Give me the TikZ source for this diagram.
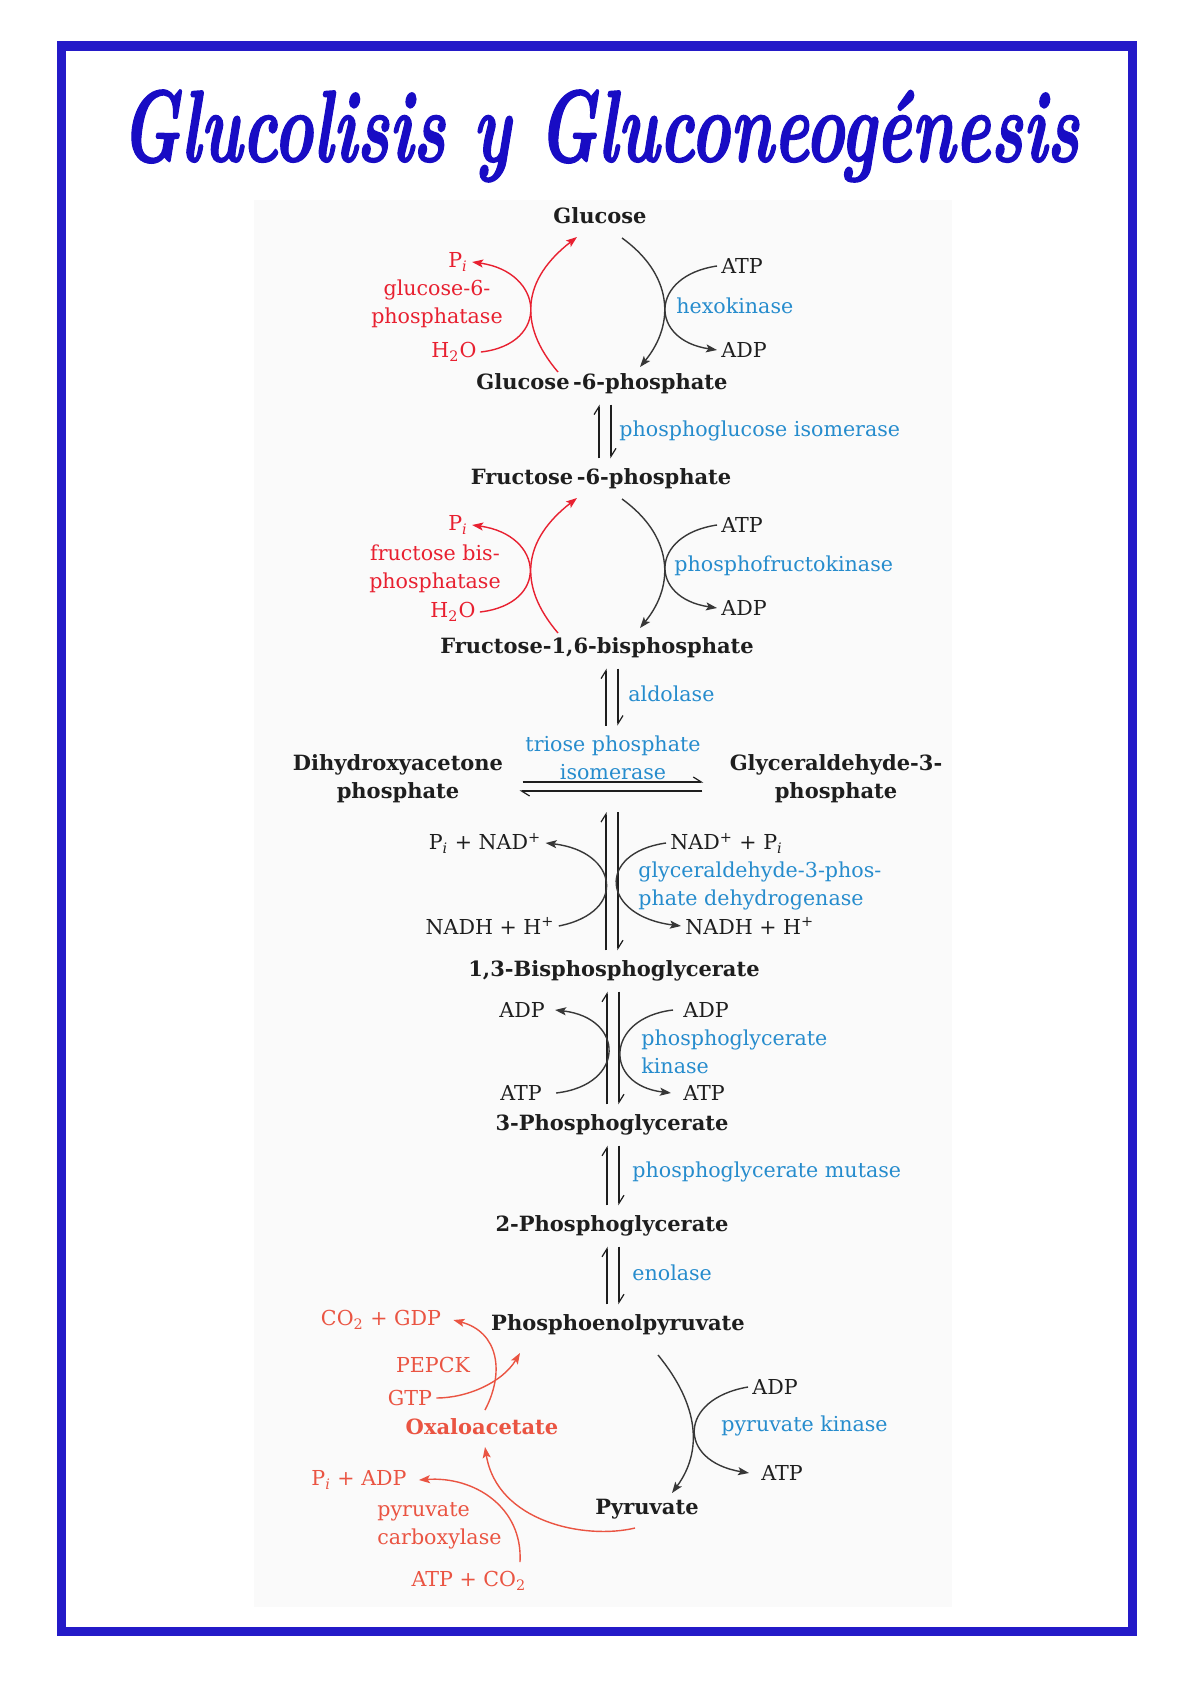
\documentclass[tikz,border=0pt]{standalone}
\usepackage{fontspec}
\usepackage{graphicx}
\newfontfamily\labelfont{DejaVu Serif}
\newfontfamily\titlefont{Latin Modern Roman}[FakeBold=1.6]
\usetikzlibrary{arrows.meta}

\definecolor{frameblue}{RGB}{36,26,200}
\definecolor{titleblue}{RGB}{24,12,196}
\definecolor{ink}{RGB}{30,30,30}
\definecolor{arcgray}{RGB}{55,55,55}
\definecolor{enzblue}{RGB}{38,140,205}
\definecolor{gngred}{RGB}{232,32,48}
\definecolor{pepred}{RGB}{234,84,66}

% pair of harpoons between two levels, #3 = x of the pair
\newcommand{\equil}[3]{%
  \draw[harp] (#3-6,0 |- #2) -- (#3-6,0 |- #1);
  \draw[harp] (#3+6,0 |- #1) -- (#3+6,0 |- #2);}

\begin{document}
\begin{tikzpicture}[x=0.5pt, y=-0.5pt,
  met/.style={font=\labelfont\bfseries\fontsize{10.5}{14}\selectfont, text=ink, inner sep=2pt},
  cof/.style={font=\labelfont\fontsize{10.3}{14}\selectfont, text=ink, inner sep=2pt},
  enz/.style={cof, text=enzblue},
  gng/.style={cof, text=gngred},
  pepc/.style={cof, text=pepred},
  fwd/.style={draw=arcgray, line width=0.7pt, -{Stealth[length=5.5pt, width=4pt, inset=1.2pt]}},
  gngarc/.style={fwd, draw=gngred},
  peparc/.style={fwd, draw=pepred},
  harp/.style={draw=ink, line width=0.6pt, shorten <=3pt, shorten >=3pt,
    -{Straight Barb[left, length=4pt, width=5pt]}}]
  \useasboundingbox (0,0) rectangle (1200,1696);
  \fill[black!2] (254,200) rectangle (952,1607);
  \draw[frameblue, line width=4.75pt] (61.5,46) rectangle (1132.5,1631.5);
  \node[text=titleblue, font=\titlefont\bfseries\itshape, inner sep=0pt] (title) at (600,136)
    {\resizebox*{479pt}{46pt}{Glucolisis y Gluconeogénesis}};

  % glucose -- glucose-6-phosphate
  \node[met] (glc) at (600,216) {Glucose};
  \node[met] (g6p) at (602,384) {Glucose\,-6-phosphate};
  \node[cof, anchor=west] (atpa) at (717,266) {ATP};
  \node[enz, anchor=west] (hexo) at (672,306) {hexokinase};
  \node[cof, anchor=west] (adpa) at (717,350) {ADP};
  \node[gng] (pia) at (458,262) {P\textsubscript{\textit{i}}};
  \node[gng, align=center] (g6pase) at (437,304) {glucose-6-\\phosphatase};
  \node[gng] (h2oa) at (454,352) {H\textsubscript{2}O};
  \draw[fwd] ([shift={(22,22)}]glc.center) .. controls +(50,36) and +(36,-44) .. ([shift={(38,-17)}]g6p.center);
  \draw[fwd] (atpa.west) .. controls +(-68,10) and +(-68,-10) .. (adpa.west);
  \draw[gngarc] ([shift={(-44,-12)}]g6p.center) .. controls +(-41,-48) and +(-54,42) .. ([shift={(-23,21)}]glc.center);
  \draw[gngarc] (h2oa.east) .. controls +(70,-8) and +(72,10) .. (pia.east);

  % fructose-6-phosphate -- fructose-1,6-bisphosphate
  \node[met] (f6p) at (601,479) {Fructose\,-6-phosphate};
  \node[enz, anchor=west] (pgi) at (615,431) {phosphoglucose isomerase};
  \equil{g6p.south}{f6p.north}{605}
  \node[met] (fbp) at (597,648) {Fructose-1,6-bisphosphate};
  \node[cof, anchor=west] (atpb) at (717,525) {ATP};
  \node[enz, anchor=west] (pfk) at (670,566) {phosphofructokinase};
  \node[cof, anchor=west] (adpb) at (717,608) {ADP};
  \node[gng] (pib) at (458,525) {P\textsubscript{\textit{i}}};
  \node[gng, align=center] (fbpase) at (435,569) {fructose bis-\\phosphatase};
  \node[gng] (h2ob) at (453,612) {H\textsubscript{2}O};
  \draw[fwd] ([shift={(21,20)}]f6p.center) .. controls +(50,36) and +(36,-44) .. ([shift={(43,-20)}]fbp.center);
  \draw[fwd] (atpb.west) .. controls +(-68,10) and +(-68,-10) .. (adpb.west);
  \draw[gngarc] ([shift={(-39,-15)}]fbp.center) .. controls +(-41,-48) and +(-54,42) .. ([shift={(-24,19)}]f6p.center);
  \draw[gngarc] (h2ob.east) .. controls +(70,-8) and +(72,10) .. (pib.east);

  % triose phosphates
  \node[enz, anchor=west] (aldo) at (624,694) {aldolase};
  \node[enz, align=center] (tpi) at (613,758) {triose phosphate\\isomerase};
  \equil{fbp.south}{tpi.north}{612}
  \node[met, align=center] (dhap) at (398,779) {Dihydroxyacetone\\phosphate};
  \node[met, align=center] (gap) at (836,779) {Glyceraldehyde-3-\\phosphate};
  \draw[harp, shorten <=7.5pt, shorten >=11pt] (dhap.east |- 0,782) -- (gap.west |- 0,782);
  \draw[harp, shorten <=11.5pt, shorten >=6pt] (gap.west |- 0,791) -- (dhap.east |- 0,791);

  % glyceraldehyde-3-phosphate dehydrogenase
  \coordinate (trio) at (612,806);
  \node[met] (bpg) at (614,971) {1,3-Bisphosphoglycerate};
  \equil{trio}{bpg.north}{612}
  \node[cof] (nada) at (485,843) {P\textsubscript{\textit{i}} + NAD\textsuperscript{+}};
  \node[cof] (nadha) at (490,926) {NADH + H\textsuperscript{+}};
  \node[cof, anchor=west] (nadb) at (666,843) {NAD\textsuperscript{+} + P\textsubscript{\textit{i}}};
  \node[cof, anchor=west] (nadhb) at (681,926) {NADH + H\textsuperscript{+}};
  \node[enz, anchor=west, align=left] (gapdh) at (634,886) {glyceraldehyde-3-phos-\\phate dehydrogenase};
  \draw[fwd] (nadha.east) .. controls +(70,-14) and +(72,8) .. (nada.east);
  \draw[fwd] (nadb.west) .. controls +(-70,10) and +(-80,-10) .. (nadhb.west);

  % phosphoglycerate kinase
  \node[met] (pga3) at (612,1125) {3-Phosphoglycerate};
  \equil{bpg.south}{pga3.north}{613}
  \node[cof] (adpc) at (522,1010) {ADP};
  \node[cof] (atpc) at (521,1093) {ATP};
  \node[cof, anchor=west] (adpd) at (679,1010) {ADP};
  \node[cof, anchor=west] (atpd) at (679,1093) {ATP};
  \node[enz, anchor=west, align=left] (pgk) at (637,1052) {phosphoglycerate\\kinase};
  \draw[fwd] ([xshift=5pt]atpc.east) .. controls +(70,-8) and +(70,8) .. ([xshift=3pt]adpc.east);
  \draw[fwd] ([xshift=-3pt]adpd.west) .. controls +(-68,8) and +(-68,-8) .. ([xshift=-4pt]atpd.west);

  % mutase, enolase
  \node[met] (pga2) at (612,1226) {2-Phosphoglycerate};
  \node[enz, anchor=west] (pgm) at (628,1172) {phosphoglycerate mutase};
  \equil{pga3.south}{pga2.north}{613}
  \node[met] (pep) at (618,1325) {Phosphoenolpyruvate};
  \node[enz, anchor=west] (eno) at (628,1273) {enolase};
  \equil{pga2.south}{pep.north}{613}

  % pyruvate kinase
  \node[met] (pyr) at (647,1509) {Pyruvate};
  \node[cof, anchor=west] (adpe) at (748,1387) {ADP};
  \node[enz, anchor=west] (pk) at (717,1426) {pyruvate kinase};
  \node[cof, anchor=west] (atpe) at (757,1473) {ATP};
  \draw[fwd] ([shift={(40,30)}]pep.center) .. controls +(41,50) and +(31,-42) .. ([shift={(25,-16)}]pyr.center);
  \draw[fwd] (adpe.west) .. controls +(-70,12) and +(-72,-12) .. ([xshift=-4pt]atpe.west);

  % PEPCK and pyruvate carboxylase
  \node[met, text=pepred] (oaa) at (482,1427) {Oxaloacetate};
  \node[pepc] (co2) at (381,1320) {CO\textsubscript{2} + GDP};
  \node[pepc] (pepck) at (433,1365) {PEPCK};
  \node[pepc] (gtp) at (410,1398) {GTP};
  \node[pepc] (piadp) at (359,1480) {P\textsubscript{\textit{i}} + ADP};
  \node[pepc, anchor=west, align=left] (pc) at (373,1526) {pyruvate\\carboxylase};
  \node[pepc] (atpco2) at (469,1581) {ATP + CO\textsubscript{2}};
  \draw[peparc] ([shift={(3,-17)}]oaa.center) .. controls +(20,-38) and +(45,12) .. ([xshift=4pt]co2.east);
  \draw[peparc] (gtp.east) .. controls +(30,0) and +(-18,30) .. ([shift={(-98,28)}]pep.center);
  \draw[peparc] ([shift={(-12,19)}]pyr.center) .. controls +(-50,12) and +(12,75) .. ([shift={(3,20)}]oaa.center);
  \draw[peparc] ([shift={(51,-19)}]atpco2.center) .. controls +(3,-55) and +(55,-4) .. ([xshift=4pt]piadp.east);
\end{tikzpicture}
\end{document}
